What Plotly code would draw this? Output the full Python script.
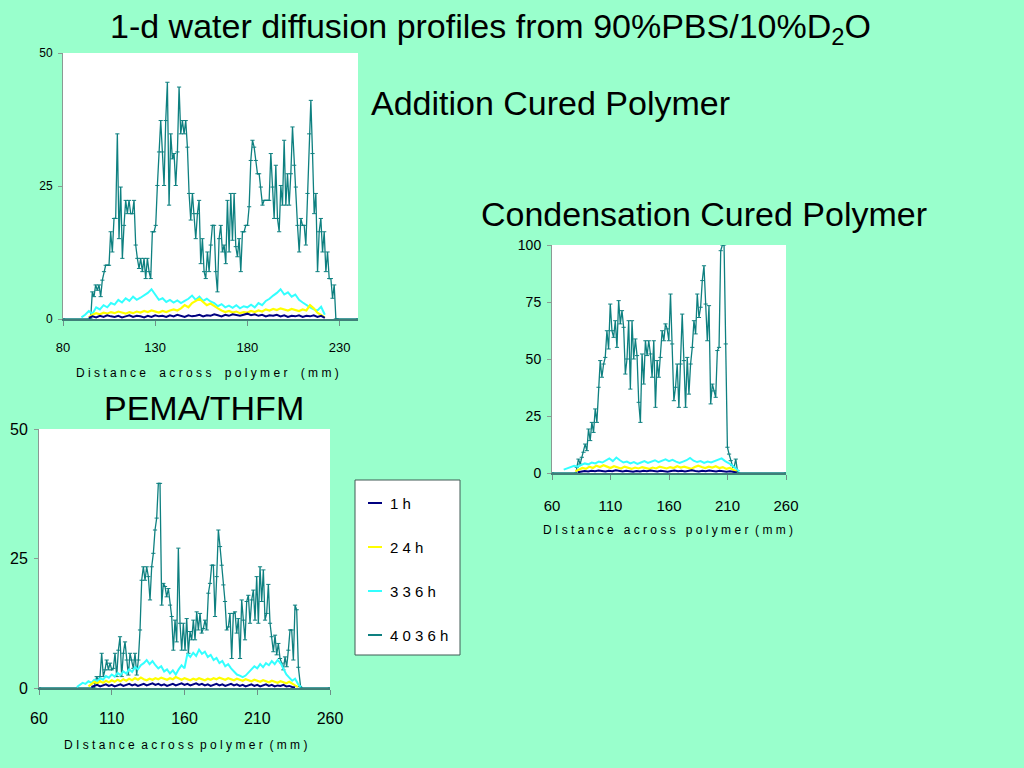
import numpy as np
import plotly.graph_objects as go

W, H = 1024, 768
BG = "#99FFCC"
C1, C24, C336, C4036 = "#000080", "#FFFF00", "#33FFFF", "#0E8080"

# ---------------- Addition Cured Polymer (top-left) ----------------
add_xrange = [80, 240]
add_xticks = [80, 130, 180, 230]
add_yticks = [0, 25, 50]
add_4036_span = (95.0, 228.0)
add_4036 = [0.0, 5.1, 4.2, 6.4, 5.4, 6.4, 4.2, 7.3, 8.9, 10.1,
            10.1, 10.1, 16.4, 12.6, 18.9, 18.9, 34.8, 15.1, 24.8, 11.4,
            17.6, 22.3, 19.8, 22.3, 19.8, 19.8, 22.3, 13.9, 11.4, 9.5,
            11.4, 8.9, 11.4, 7.6, 11.4, 8.9, 7.6, 16.4, 16.4, 17.6,
            25.1, 31.4, 37.3, 31.4, 25.1, 37.3, 44.5, 21.4, 34.8, 30.1,
            31.1, 25.1, 31.4, 43.6, 34.8, 37.3, 34.8, 37.3, 32.3, 23.6,
            18.6, 23.6, 19.8, 15.1, 19.8, 22.3, 10.4, 15.1, 8.9, 7.6,
            12.6, 8.9, 13.9, 17.6, 17.6, 8.9, 5.1, 15.1, 17.6, 12.6,
            13.9, 10.4, 22.3, 12.6, 23.6, 14.8, 23.6, 13.6, 11.7, 15.1,
            8.9, 16.4, 16.4, 17.6, 17.6, 21.1, 29.8, 33.6, 32.3, 29.8,
            27.3, 27.3, 24.8, 21.4, 22.3, 22.3, 22.3, 22.3, 31.1, 24.8,
            18.9, 28.9, 18.9, 16.4, 25.1, 21.4, 33.6, 21.4, 27.3, 21.4,
            27.3, 36.1, 28.9, 24.8, 17.6, 12.6, 18.9, 17.6, 17.6, 13.9,
            23.6, 34.8, 41.1, 31.1, 19.8, 23.6, 8.9, 16.4, 18.9, 12.6,
            16.4, 8.9, 12.6, 7.6, 7.6, 3.9, 6.4, 0.0]
add_336_span = (90.0, 222.0)
add_336 = [0.3, 0.8, 1.5, 1.0, 2.2, 1.8, 2.6, 2.2, 3.0, 2.7,
           3.6, 3.1, 3.9, 3.4, 4.2, 3.6, 4.0, 4.4, 4.9, 5.6,
           4.6, 3.6, 3.9, 3.2, 3.6, 3.1, 3.5, 3.0, 3.4, 3.8,
           4.4, 3.6, 4.2, 3.4, 3.8, 3.3, 3.0, 2.4, 2.8, 2.2,
           2.5, 2.1, 2.6, 2.0, 2.4, 2.2, 2.7, 2.2, 3.0, 2.6,
           3.4, 3.8, 4.4, 4.9, 5.6, 4.6, 5.0, 4.2, 4.6, 3.6,
           3.1, 2.6, 2.2, 1.8, 1.6, 2.3, 0.8]
add_24_span = (94.0, 222.0)
add_24 = [0.3, 0.8, 1.1, 0.9, 1.2, 1.0, 1.3, 1.1, 1.4, 1.2,
          1.0, 1.3, 1.1, 1.4, 1.2, 1.5, 1.3, 1.6, 1.4, 1.2,
          1.5, 1.3, 1.6, 1.8, 1.6, 2.0, 2.6, 2.2, 3.0, 3.4,
          3.8, 3.2, 2.6, 2.9, 2.4, 2.0, 1.6, 1.3, 1.5, 1.2,
          1.4, 1.1, 1.3, 1.2, 1.5, 1.3, 1.6, 1.4, 1.8, 1.6,
          1.9, 1.7, 2.0, 1.8, 1.6, 1.9, 1.7, 1.5, 1.8, 1.6,
          2.6, 2.0, 1.2, 0.8, 0.3]
add_1_span = (94.0, 222.0)
add_1 = [0.2, 0.5, 0.3, 0.6, 0.4, 0.7, 0.5, 0.4, 0.6, 0.3,
         0.5, 0.7, 0.4, 0.6, 0.5, 0.3, 0.6, 0.4, 0.7, 0.5,
         0.6, 0.4, 0.7, 0.5, 0.8, 0.6, 0.4, 0.7, 0.5, 0.6,
         0.8, 0.5, 0.7, 0.6, 0.9, 0.7, 0.5, 0.8, 0.6, 0.9,
         0.7, 0.6, 0.8, 1.0, 0.7, 0.9, 0.6, 0.8, 0.5, 0.7,
         0.6, 0.8, 0.5, 0.7, 0.4, 0.6, 0.5, 0.7, 0.4, 0.6,
         0.5, 0.7, 0.4, 0.6, 0.2]

# ---------------- Condensation Cured Polymer (right) ----------------
con_xrange = [60, 260]
con_xticks = [60, 110, 160, 210, 260]
con_yticks = [0, 25, 50, 75, 100]
con_4036_span = (81.2, 218.5)
con_4036 = [2.5, 6.1, 3.9, 6.9, 9.1, 12.7, 9.8, 19.3, 14.2, 22.2,
            17.8, 28.1, 22.2, 37.6, 49.3, 42.0, 47.8, 50.7, 62.4, 54.4,
            74.1, 62.4, 59.5, 66.8, 55.1, 75.6, 65.4, 71.2, 63.9, 43.4,
            50.0, 66.8, 36.8, 66.8, 50.0, 58.8, 51.5, 31.0, 22.2, 52.2,
            39.0, 58.0, 51.5, 58.0, 52.2, 42.0, 58.0, 28.8, 49.3, 42.0,
            50.7, 62.4, 58.0, 65.4, 63.2, 58.0, 78.5, 56.6, 31.7, 37.6,
            47.8, 28.8, 47.8, 69.7, 49.3, 28.8, 50.7, 34.6, 47.8, 55.1,
            66.8, 61.0, 78.5, 68.2, 72.7, 84.4, 90.9, 74.1, 58.0, 73.4,
            30.3, 39.0, 36.0, 33.2, 53.7, 55.1, 97.5, 100.0, 100.0, 56.6,
            11.3, 8.3, 5.4, 3.2, 2.5, 6.1, 1.0]
con_336_span = (70.0, 220.0)
con_336 = [1.5, 2.0, 2.6, 3.2, 2.8, 3.6, 4.2, 3.8, 4.6, 4.2,
           5.0, 4.6, 5.4, 6.4, 5.2, 6.8, 5.6, 4.6, 5.0, 4.2,
           4.8, 4.0, 4.6, 5.2, 4.4, 5.0, 5.6, 4.8, 5.4, 6.0,
           5.2, 5.8, 5.0, 4.4, 5.0, 5.6, 6.6, 5.4, 4.8, 5.2,
           4.4, 5.0, 4.6, 5.2, 5.8, 6.4, 5.2, 4.4, 3.4, 2.0, 0.8]
con_24_span = (80.0, 218.0)
con_24 = [0.8, 1.6, 2.2, 1.8, 2.8, 2.2, 3.2, 2.6, 3.4, 2.8,
          2.2, 3.0, 2.4, 2.0, 2.8, 2.2, 1.8, 2.4, 2.0, 2.6,
          2.2, 1.8, 2.4, 2.0, 2.8, 2.4, 2.0, 2.6, 2.2, 3.0,
          2.4, 2.8, 2.2, 1.8, 2.6, 3.2, 2.6, 2.2, 2.8, 2.4,
          3.0, 2.2, 2.6, 1.8, 2.2, 1.4, 0.6]
con_1_span = (82.0, 218.0)
con_1 = [0.3, 0.6, 0.9, 0.7, 1.0, 0.8, 1.1, 0.9, 0.7, 1.0,
         0.8, 1.2, 0.9, 0.7, 1.0, 0.8, 0.6, 0.9, 0.7, 1.0,
         0.8, 1.1, 0.9, 0.7, 1.0, 0.8, 0.6, 0.9, 1.1, 0.8,
         1.0, 0.7, 0.9, 1.2, 0.9, 0.7, 1.0, 0.8, 1.1, 0.9,
         0.7, 1.0, 0.8, 0.6, 0.8, 0.5, 0.2]

# ---------------- PEMA/THFM (bottom-left) ----------------
pem_xrange = [60, 260]
pem_xticks = [60, 110, 160, 210, 260]
pem_yticks = [0, 25, 50]
pem_4036_span = (98.5, 239.4)
pem_4036 = [0.9, 2.2, 1.5, 2.2, 6.7, 2.2, 3.5, 5.4, 3.5, 4.8,
            3.5, 3.8, 6.7, 2.2, 7.3, 9.9, 2.2, 6.7, 8.9, 5.4,
            2.5, 6.7, 5.4, 3.8, 6.7, 2.5, 5.4, 11.2, 20.8, 23.4,
            20.8, 23.4, 21.5, 17.0, 23.4, 26.0, 30.5, 32.8, 39.5, 39.5,
            16.0, 20.2, 19.6, 17.6, 19.2, 16.0, 13.8, 7.3, 13.1, 8.9,
            27.0, 12.5, 7.3, 12.5, 7.3, 13.4, 6.7, 10.9, 9.3, 13.1,
            9.3, 14.7, 11.2, 14.4, 10.6, 11.5, 13.1, 11.2, 18.3, 20.2,
            23.7, 23.7, 13.8, 21.5, 30.5, 27.3, 23.7, 19.9, 16.7, 11.2,
            11.8, 14.4, 5.7, 14.4, 14.7, 10.6, 13.4, 5.7, 17.0, 13.1,
            9.3, 16.7, 17.9, 12.5, 17.0, 18.9, 13.1, 21.5, 12.5, 23.4,
            16.7, 22.8, 13.1, 14.4, 20.0, 12.5, 9.9, 7.0, 10.2, 6.4,
            8.6, 5.7, 4.8, 3.5, 6.0, 4.1, 7.3, 11.2, 11.2, 5.4,
            16.0, 15.1, 4.0, 0.3]
pem_336_span = (86.0, 240.0)
pem_336 = [0.2, 0.6, 1.0, 0.8, 1.3, 1.0, 1.6, 1.3, 1.9, 1.6,
           2.3, 2.0, 2.6, 2.2, 2.9, 2.5, 3.2, 2.8, 3.6, 3.1,
           4.0, 3.6, 4.4, 4.8, 5.4, 4.6, 5.2, 4.4, 3.8, 4.2,
           3.2, 3.6, 2.8, 3.4, 2.6, 3.6, 4.4, 3.8, 6.6, 6.0,
           6.8, 6.2, 7.4, 6.6, 7.0, 6.0, 6.4, 5.4, 5.8, 4.8,
           5.2, 4.2, 4.6, 3.8, 3.2, 2.6, 2.4, 2.1, 2.4, 3.0,
           3.6, 4.2, 3.8, 4.6, 4.0, 4.8, 4.4, 5.2, 4.6, 5.4,
           4.8, 3.6, 2.6, 2.0, 1.4, 1.8, 0.8, 0.2]
pem_24_span = (94.0, 238.0)
pem_24 = [0.3, 0.8, 1.2, 0.9, 1.3, 1.0, 1.4, 1.1, 1.5, 1.2,
          1.6, 1.3, 1.7, 1.4, 1.8, 1.5, 1.9, 1.6, 2.0, 1.7,
          1.5, 1.8, 1.6, 1.9, 1.7, 2.0, 1.8, 1.6, 1.9, 1.7,
          2.1, 1.8, 1.6, 1.9, 1.7, 1.5, 1.8, 1.6, 1.9, 1.7,
          1.5, 1.8, 1.6, 1.9, 1.7, 2.0, 1.8, 1.6, 1.9, 1.7,
          1.5, 1.8, 1.6, 1.4, 1.7, 1.5, 1.3, 1.6, 1.4, 1.2,
          1.5, 1.3, 1.1, 1.4, 1.2, 1.0, 1.3, 1.1, 0.9, 1.2,
          0.8, 0.5, 0.2]
pem_1_span = (96.0, 236.0)
pem_1 = [0.2, 0.4, 0.6, 0.3, 0.5, 0.7, 0.4, 0.6, 0.3, 0.5,
         0.7, 0.4, 0.6, 0.8, 0.5, 0.7, 0.4, 0.6, 0.8, 0.5,
         0.7, 0.9, 0.6, 0.8, 0.5, 0.7, 0.4, 0.6, 0.8, 0.5,
         0.7, 0.9, 0.6, 0.8, 0.5, 0.7, 0.9, 0.6, 0.8, 0.5,
         0.7, 0.4, 0.6, 0.8, 0.5, 0.7, 0.4, 0.6, 0.8, 0.5,
         0.7, 0.4, 0.6, 0.3, 0.5, 0.7, 0.4, 0.6, 0.3, 0.5,
         0.7, 0.4, 0.6, 0.3, 0.5, 0.4, 0.6, 0.3, 0.4, 0.2, 0.1]

legend_labels = ["1 h", "2 4 h", "3 3 6 h", "4 0 3 6 h"]
legend_colors = [C1, C24, C336, C4036]

title_main = "1-d water diffusion profiles from 90%PBS/10%D<sub>2</sub>O"
title_add = "Addition Cured Polymer"
title_con = "Condensation Cured Polymer"
title_pem = "PEMA/THFM"
xtitle_add = "D i s t a n c e    a c r o s s    p o l y m e r    ( m m )"
xtitle_con = "D I s t a n c e   a c r o s s   p o l y m e r  ( m m )"
xtitle_pem = "D I s t a n c e  a c r o s s  p o l y m e r  ( m m )"


def px(x):
    return x / W


def py(y):
    return 1 - y / H


fig = go.Figure()

FONT = "Liberation Sans, Arial, sans-serif"
NARROW = "Liberation Sans Narrow, Arial Narrow, Liberation Sans, Arial, sans-serif"


def add_panel(xa, ya, xr, s4036, v4036, s336, v336, s24, v24, s1, v1):
    xs = list(np.linspace(s4036[0], s4036[1], len(v4036)))
    xfull = [xr[0], s4036[0] - 0.5] + xs + [s4036[1] + 0.5, xr[1]]
    yfull = [0, 0] + list(v4036) + [0, 0]
    fig.add_trace(go.Scatter(
        x=xfull, y=yfull,
        mode="lines+markers", xaxis=xa, yaxis=ya, showlegend=False,
        line=dict(color=C4036, width=1.3),
        marker=dict(symbol="line-ew", size=3, line=dict(color=C4036, width=1))))
    for span, vals, col, w in [(s336, v336, C336, 2.0), (s24, v24, C24, 2.2), (s1, v1, C1, 2.0)]:
        xs = np.linspace(span[0], span[1], len(vals))
        fig.add_trace(go.Scatter(x=xs, y=vals, mode="lines", xaxis=xa, yaxis=ya,
                                 showlegend=False, line=dict(color=col, width=w)))


add_panel("x", "y", add_xrange, add_4036_span, add_4036, add_336_span, add_336,
          add_24_span, add_24, add_1_span, add_1)
add_panel("x2", "y2", con_xrange, con_4036_span, con_4036, con_336_span, con_336,
          con_24_span, con_24, con_1_span, con_1)
add_panel("x3", "y3", pem_xrange, pem_4036_span, pem_4036, pem_336_span, pem_336,
          pem_24_span, pem_24, pem_1_span, pem_1)


def xax(domain, rng, ticks, anchor, size, standoff, family):
    return dict(domain=domain, range=rng, tickvals=ticks, anchor=anchor,
                showgrid=False, zeroline=False, showline=True, linecolor="#3f7f78",
                linewidth=1.5, ticks="outside", ticklen=5, tickcolor="#6f8f88",
                tickfont=dict(size=size, color="black", family=family),
                ticklabelstandoff=standoff, fixedrange=True, automargin=False)


def yax(domain, rng, ticks, anchor, size, family):
    return dict(domain=domain, range=rng, tickvals=ticks, anchor=anchor,
                showgrid=False, zeroline=False, showline=True, linecolor="#8a9a94",
                linewidth=1, ticks="outside", ticklen=4, tickcolor="#8a9a94",
                tickfont=dict(size=size, color="black", family=family),
                ticklabelstandoff=3, fixedrange=True, automargin=False)


fig.update_layout(
    width=W, height=H, margin=dict(l=0, r=0, t=0, b=0, autoexpand=False),
    paper_bgcolor=BG, plot_bgcolor="white", showlegend=False,
    xaxis=xax([px(63), px(358)], add_xrange, add_xticks, "y", 13, 11, NARROW),
    yaxis=yax([py(319), py(53)], [0, 50], add_yticks, "x", 12, NARROW),
    xaxis2=xax([px(552), px(786)], con_xrange, con_xticks, "y2", 15, 13, NARROW),
    yaxis2=yax([py(473), py(245)], [0, 100], con_yticks, "x2", 14, NARROW),
    xaxis3=xax([px(39), px(330)], pem_xrange, pem_xticks, "y3", 16, 10, FONT),
    yaxis3=yax([py(688), py(429)], [0, 50], pem_yticks, "x3", 16, FONT),
)

annots = [
    dict(text=title_main, x=px(490), y=py(29), size=34),
    dict(text=title_add, x=px(550), y=py(103), size=34),
    dict(text=title_con, x=px(704), y=py(214), size=34),
    dict(text=title_pem, x=px(204), y=py(408), size=34),
    dict(text=xtitle_add, x=px(207), y=py(373), size=12, fam=NARROW),
    dict(text=xtitle_con, x=px(668), y=py(530), size=12, fam=NARROW),
    dict(text=xtitle_pem, x=px(185), y=py(745), size=12, fam=NARROW),
]
for a in annots:
    fig.add_annotation(text=a["text"], x=a["x"], y=a["y"], xref="paper", yref="paper",
                       xanchor="center", yanchor="middle", showarrow=False,
                       font=dict(size=a["size"], color="black", family=a.get("fam", FONT)))

# legend box
fig.add_shape(type="rect", xref="paper", yref="paper", x0=px(355), x1=px(460),
              y0=py(655), y1=py(480), fillcolor="white", line=dict(color="#405a55", width=1))
for i, (lab, col) in enumerate(zip(legend_labels, legend_colors)):
    yy = 503 + 44 * i
    fig.add_shape(type="line", xref="paper", yref="paper", x0=px(368), x1=px(382),
                  y0=py(yy), y1=py(yy), line=dict(color=col, width=2))
    fig.add_annotation(text=lab, x=px(388), y=py(yy), xref="paper", yref="paper",
                       xanchor="left", yanchor="middle", showarrow=False,
                       font=dict(size=15, color="black", family=FONT))

fig.write_html("out.html")
